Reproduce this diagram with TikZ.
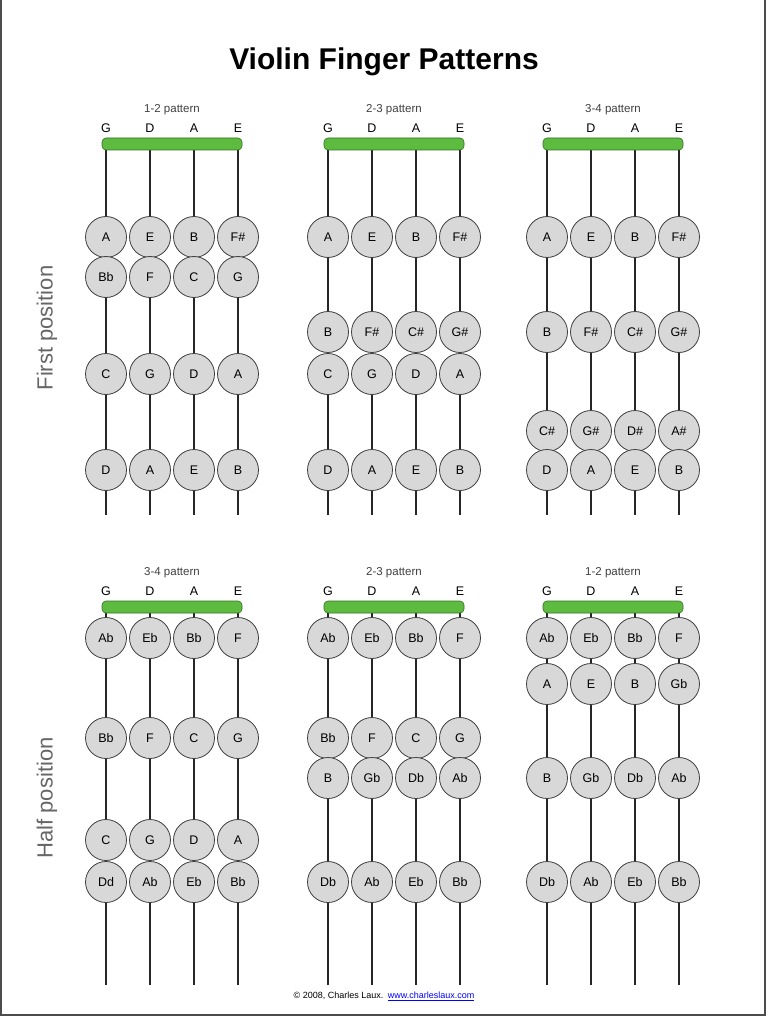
\documentclass[tikz,border=0pt]{standalone}
\usepackage{fontspec}
\setmainfont{Liberation Sans}
\definecolor{nutg}{HTML}{5DBB3F}
\definecolor{ncirc}{HTML}{D8D8D8}
\begin{document}
\begin{tikzpicture}[x=1pt,y=-1pt,
  note/.style={circle,draw=black!75,line width=0.8pt,fill=ncirc,minimum size=41pt,inner sep=0pt,font=\fontsize{12.5}{12.5}\selectfont},
  str/.style={line width=2pt,black!85},
  nut/.style={fill=nutg,draw=nutg!60!black,line width=0.6pt,rounded corners=4pt},
  lab/.style={font=\fontsize{12.5}{12.5}\selectfont},
  pat/.style={font=\fontsize{11.5}{11.5}\selectfont,black!75},
  side/.style={font=\fontsize{22}{22}\selectfont,black!60,rotate=90}]
\useasboundingbox (0,0) rectangle (768,1024);
\fill[white] (0,0) rectangle (768,1024);
\draw[black!70,line width=1.5pt] (0.75,0) -- (0.75,1015) -- (765,1015) -- (765,0);
\node[font=\bfseries\fontsize{30}{30}\selectfont] (title) at (384,62) {Violin Finger Patterns};
\node[side] (fp) at (47,328) {First position};
\node[side] (hp) at (47,798) {Half position};
\node[font=\fontsize{9}{9}\selectfont] (foot) at (384,996) {\textcopyright{} 2008, Charles Laux.\enspace\textcolor{blue}{\underline{www.charleslaux.com}}};
\newcommand{\panel}[5]{%
  \foreach \s/\n [count=\i from 0] in {G/g,D/d,A/a,E/e}{
    \coordinate (#1\n t) at (#2+\i*44,#3);
    \coordinate (#1\n b) at (#2+\i*44,#4);
    \draw[str] (#1\n t) -- (#1\n b);
    \node[lab] (#1\n l) at (#2+\i*44,#3-16) {\s};
  }
  \draw[nut] (#2-4,#3-6) rectangle (#2+136,#3+6);
  \node[pat] (#1p) at (#2+66,#3-34) {#5};
}
\newcommand{\notes}[7]{%
  \node[note] (#1g) at (#2,#3) {#4};
  \node[note] (#1d) at (#2+44,#3) {#5};
  \node[note] (#1a) at (#2+88,#3) {#6};
  \node[note] (#1e) at (#2+132,#3) {#7};
}
\panel{pa}{106}{144}{515}{1-2 pattern}
\panel{pb}{328}{144}{515}{2-3 pattern}
\panel{pc}{547}{144}{515}{3-4 pattern}
\panel{pd}{106}{607}{985}{3-4 pattern}
\panel{pe}{328}{607}{985}{2-3 pattern}
\panel{pf}{547}{607}{985}{1-2 pattern}
\notes{a1}{106}{237}{A}{E}{B}{F\#}
\notes{a2}{106}{277}{Bb}{F}{C}{G}
\notes{a3}{106}{374}{C}{G}{D}{A}
\notes{a4}{106}{470}{D}{A}{E}{B}
\notes{b1}{328}{237}{A}{E}{B}{F\#}
\notes{b2}{328}{332}{B}{F\#}{C\#}{G\#}
\notes{b3}{328}{374}{C}{G}{D}{A}
\notes{b4}{328}{470}{D}{A}{E}{B}
\notes{c1}{547}{237}{A}{E}{B}{F\#}
\notes{c2}{547}{332}{B}{F\#}{C\#}{G\#}
\notes{c3}{547}{431}{C\#}{G\#}{D\#}{A\#}
\notes{c4}{547}{470}{D}{A}{E}{B}
\notes{d1}{106}{638}{Ab}{Eb}{Bb}{F}
\notes{d2}{106}{738}{Bb}{F}{C}{G}
\notes{d3}{106}{840}{C}{G}{D}{A}
\notes{d4}{106}{882}{Dd}{Ab}{Eb}{Bb}
\notes{e1}{328}{638}{Ab}{Eb}{Bb}{F}
\notes{e2}{328}{738}{Bb}{F}{C}{G}
\notes{e3}{328}{778}{B}{Gb}{Db}{Ab}
\notes{e4}{328}{882}{Db}{Ab}{Eb}{Bb}
\notes{f1}{547}{638}{Ab}{Eb}{Bb}{F}
\notes{f2}{547}{684}{A}{E}{B}{Gb}
\notes{f3}{547}{778}{B}{Gb}{Db}{Ab}
\notes{f4}{547}{882}{Db}{Ab}{Eb}{Bb}
\end{tikzpicture}
\end{document}
